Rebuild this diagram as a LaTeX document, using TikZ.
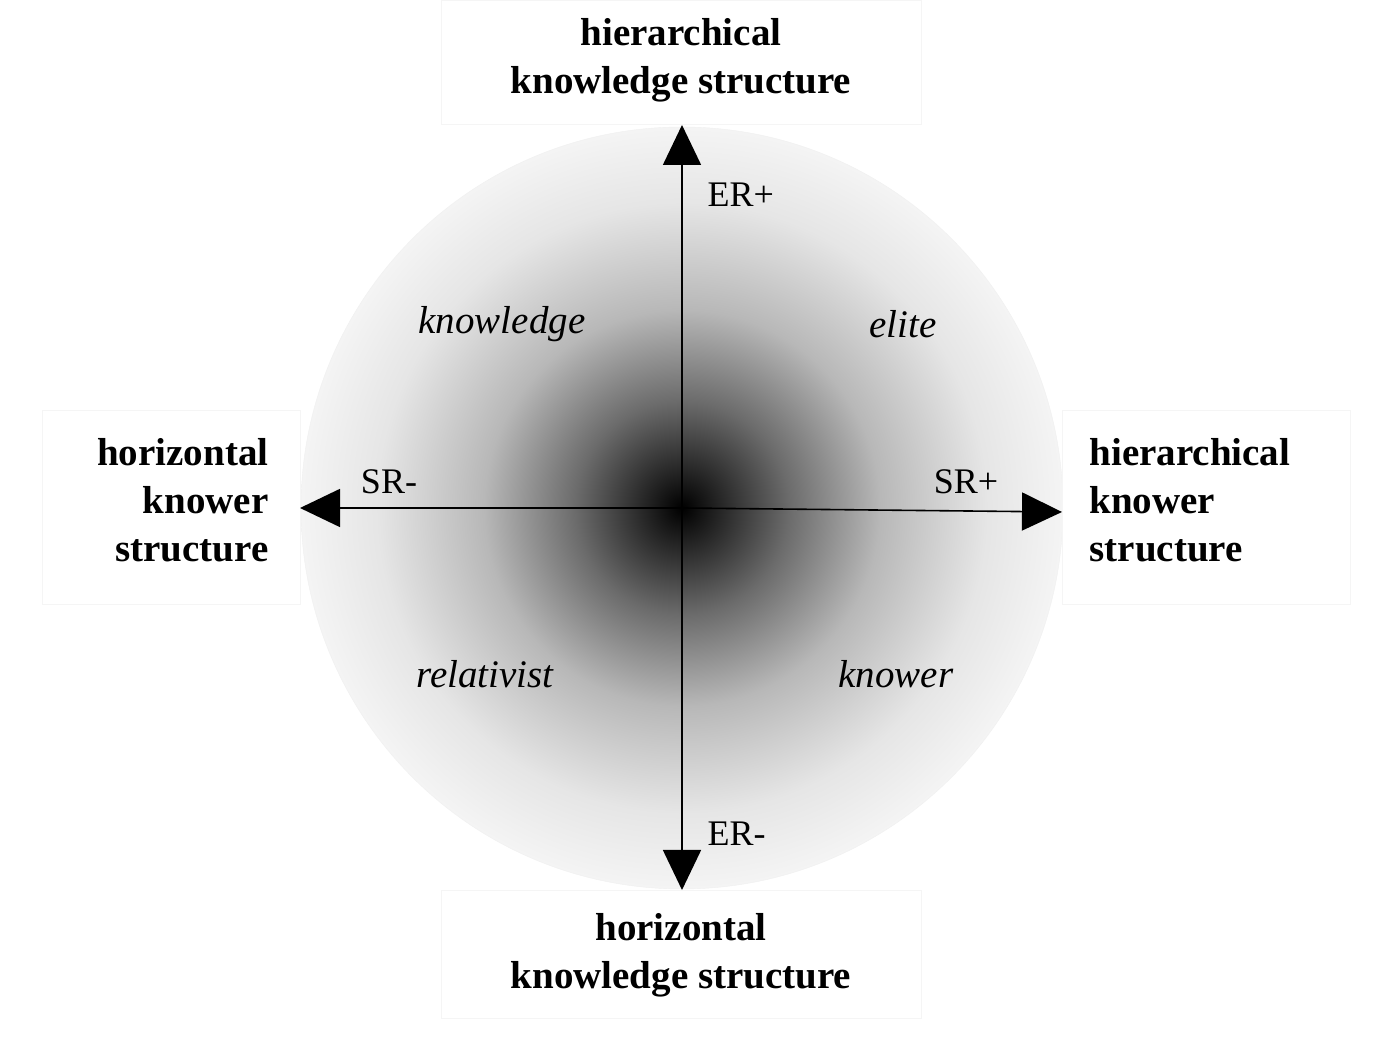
\documentclass[tikz,border=0pt]{standalone}
\usepackage{fontspec}
\setmainfont{Liberation Serif}
\usetikzlibrary{arrows.meta}
\pgfdeclareradialshading{ball}{\pgfpoint{0bp}{0bp}}{color(0bp)=(black); color(2bp)=(black!88); color(7bp)=(black!58); color(13bp)=(black!28); color(20bp)=(black!10); color(27bp)=(black!2); color(31bp)=(white); color(72bp)=(white)}
\begin{document}
\begin{tikzpicture}[x=1pt,y=1pt,
  box/.style={draw=black!4,fill=white},
  title/.style={font=\bfseries\fontsize{39}{48}\selectfont,align=center},
  pole/.style={font=\fontsize{36}{40}\selectfont},
  quad/.style={font=\itshape\fontsize{39}{44}\selectfont},
  axis/.style={line width=1.6pt,-{Triangle[length=40pt,width=38pt]}}]
\useasboundingbox[fill=white] (0,0) rectangle (1385,1048);
\shade[shading=ball,draw=black!6] (682,540) circle (381);
\draw[box] (441,924) rectangle (921,1048);
\draw[box] (441,30) rectangle (921,158);
\draw[box] (42,444) rectangle (300,638);
\draw[box] (1062,444) rectangle (1350,638);
\coordinate (c) at (682,540);
\coordinate (t) at (682,923);
\coordinate (b) at (682,158);
\coordinate (l) at (300,540);
\coordinate (r) at (1062,536);
\draw[axis] (c) -- (t);
\draw[axis] (c) -- (b);
\draw[axis] (c) -- (l);
\draw[axis] (c) -- (r);
\node[title] (nt) at (681,988) {hierarchical\\knowledge structure};
\node[title] (nb) at (681,93) {horizontal\\knowledge structure};
\node[title,align=right,anchor=east] (nl) at (272,548) {horizontal\\knower\\structure};
\node[title,align=left,anchor=west] (nr) at (1086,548) {hierarchical\\knower\\structure};
\node[pole,anchor=west] (erp) at (704,853) {ER+};
\node[pole,anchor=west] (erm) at (704,214) {ER-};
\node[pole] (srm) at (389,566) {SR-};
\node[pole] (srp) at (966,566) {SR+};
\node[quad] (q1) at (502,724) {knowledge};
\node[quad] (q2) at (903,724) {elite};
\node[quad] (q3) at (485,374) {relativist};
\node[quad] (q4) at (896,374) {knower};
\end{tikzpicture}
\end{document}
